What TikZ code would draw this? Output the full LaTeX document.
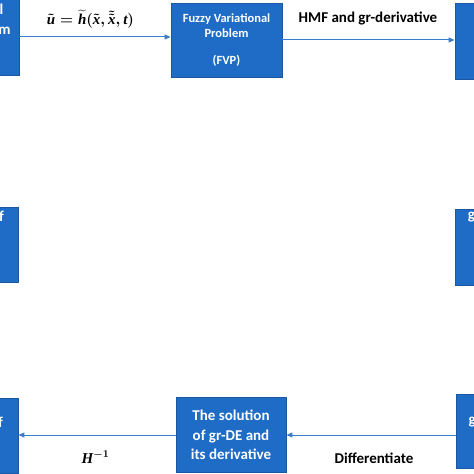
\documentclass[tikz,border=0pt]{standalone}
\usepackage{fix-cm}
\usepackage{amsmath}
\usepackage{fontspec}
\setmainfont{Carlito}
\newfontfamily\mserif{Liberation Serif}
\usetikzlibrary{arrows.meta}
\definecolor{boxfill}{HTML}{1F6CC6}
\definecolor{boxedge}{HTML}{1B57A0}
\definecolor{arrowc}{HTML}{3A7CC8}
\newcommand{\bigtxt}{\fontsize{15bp}{19.5bp}\selectfont\bfseries}
\newcommand{\smalltxt}{\fontsize{12.5bp}{15.5bp}\selectfont\bfseries}
\newcommand{\mathtxt}{\fontsize{15bp}{19.5bp}\selectfont\boldmath}
\newcommand{\mv}[1]{\text{\mserif\bfseries\itshape #1}}
\newcommand{\lines}[1]{\begin{tabular}[t]{@{}c@{}}#1\end{tabular}}
\begin{document}
\begin{tikzpicture}[x=1bp,y=-1bp,
  box/.style={draw=boxedge, fill=boxfill, line width=0.8bp, minimum width=111bp,
    minimum height=75bp, inner sep=0pt, text=white, font=\bigtxt, align=center},
  edgetxt/.style={text=white, font=\bigtxt, inner sep=0pt, anchor=base},
  lbl/.style={font=\bigtxt, text=black, inner sep=0pt, anchor=base},
  mlbl/.style={font=\mathtxt, text=black, inner sep=0pt, anchor=base},
  arr/.style={draw=arrowc, line width=1bp, -{Triangle[length=6bp,width=5bp]}}]
\useasboundingbox (0,0) rectangle (474,474);
\fill[white] (0,0) rectangle (474,474);
\clip (0,0) rectangle (474,474);
% boxes
\node[box, minimum height=76bp] (TL) at (-36.5,37) {};
\node[box, minimum height=74bp, font=\smalltxt] (FVP) at (226.5,40) {Fuzzy Variational\\Problem\\[11bp](FVP)};
\node[box, minimum height=76bp] (TR) at (510.5,41) {};
\node[box] (ML) at (-37.5,244.5) {};
\node[box, minimum height=76bp] (MR) at (510.5,247) {};
\node[box] (BL) at (-37.5,435.5) {};
\node[box, minimum width=110bp] (BM) at (231,435) {The solution\\of gr-DE and\\its derivative};
\node[box, minimum height=74bp] (BR) at (511.5,431) {};
% texts of the boxes cut by the frame
\node[edgetxt] (TLt) at (-40.5,15) {\lines{Fuzzy Optimal\\Control Problem}};
\node[edgetxt] (MLt) at (-42.7,222) {\lines{The solution of\\[5bp]fuzzy optimal\\[5bp]control}};
\node[edgetxt] (MRt) at (510.5,219.5) {\lines{gr-differential\\equation\\(gr-DE)}};
\node[edgetxt] (BRt) at (510.5,424) {\lines{gr-solution of\\gr-DE}};
\node[edgetxt] (BLt) at (-43.7,427) {\lines{The solution of\\FOCP}};
% connectors
\draw[arr] (TL.east) -- (TL.east -| FVP.west);
\draw[arr] (FVP.east) -- (FVP.east -| TR.west);
\draw[arr] (BR.west |- BM.east) -- (BM.east);
\draw[arr] (BM.west) -- (BM.west -| BL.east);
% labels
\node[mlbl] (l1) at (90.5,25) {$\tilde{\mv{u}}=\widetilde{\mv{h}}(\tilde{\mv{x}},\tilde{\tilde{\mv{x}}},\mv{t})$};
\node[lbl] (l2) at (368,23) {HMF and gr-derivative};
\node[lbl] (l3) at (374,463) {Differentiate};
\node[mlbl] (l4) at (95.5,463) {$\mv{H}^{-1}$};
\end{tikzpicture}
\end{document}
